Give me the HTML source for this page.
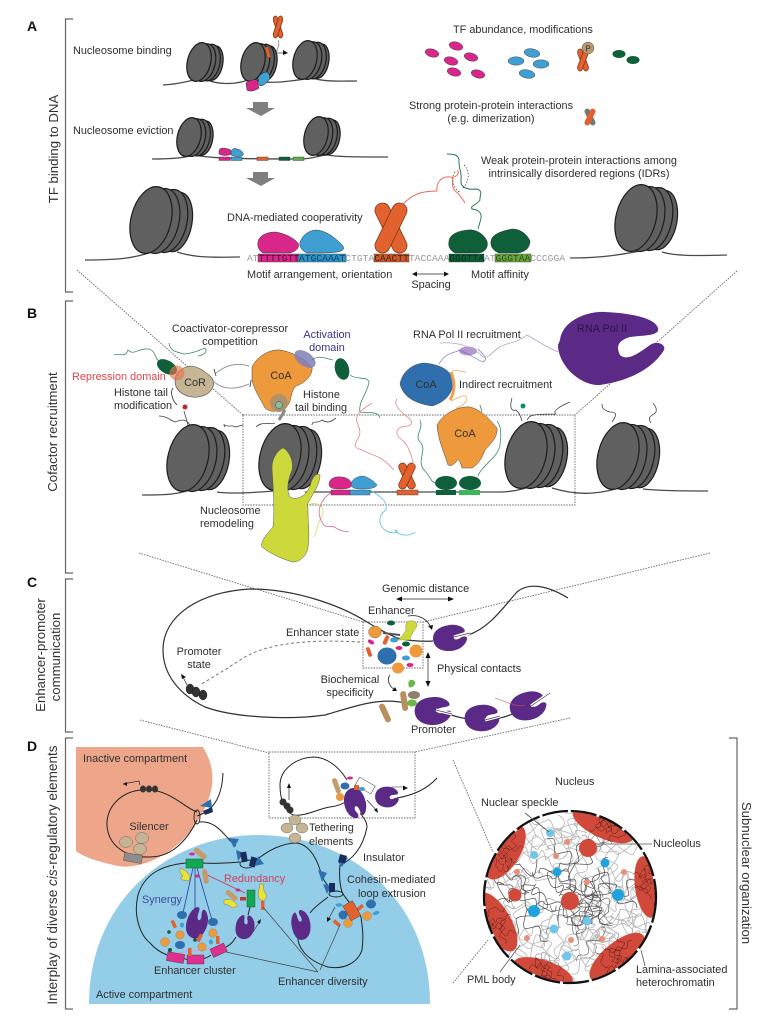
<!DOCTYPE html>
<html><head><meta charset="utf-8"><style>
html,body{margin:0;padding:0;background:#fff}
svg{display:block;filter:blur(.3px)}
text{font-family:"Liberation Sans",sans-serif;font-size:10.9px;fill:#2f2f2f}
.c{text-anchor:middle}
.l{font-size:14px;font-weight:bold;fill:#111}
.v{font-size:13.2px;text-anchor:middle;fill:#333}
.dot{fill:none;stroke:#666;stroke-width:.9;stroke-dasharray:1.5 1.2}
.dna{fill:none;stroke:#4a4a4a;stroke-width:1.3}
.blk{fill:none;stroke:#222;stroke-width:1}
.ln{fill:none;stroke-width:.8}
</style></head><body>
<svg width="768" height="1024" viewBox="0 0 768 1024" xmlns="http://www.w3.org/2000/svg">
<defs>
<g id="nuc" fill="#606060" stroke="#1c1c1c" stroke-width="1.2">
<ellipse cx="25" cy="2" rx="16" ry="30" transform="rotate(10 25 2)" vector-effect="non-scaling-stroke"/>
<ellipse cx="18" cy="1" rx="18" ry="32" transform="rotate(12 18 1)" vector-effect="non-scaling-stroke"/>
<ellipse cx="9" cy="1" rx="19" ry="33" transform="rotate(13 9 1)" vector-effect="non-scaling-stroke"/>
<ellipse cx="0" cy="0" rx="20" ry="34" transform="rotate(14)" vector-effect="non-scaling-stroke"/>
</g>
<g id="xt" stroke="#7a3010" stroke-width=".7" fill="#e2622f">
<rect x="-7.500" y="-27" width="15" height="54" rx="7.500" transform="rotate(-26)" vector-effect="non-scaling-stroke"/>
<rect x="-7.500" y="-27" width="15" height="54" rx="7.500" transform="rotate(26)" vector-effect="non-scaling-stroke"/>
</g>
<path id="pol" d="M560 340C562 322 585 311 605 312C630 313 655 318 658 328C660 336 645 335 630 337C620 340 615 345 620 355C628 362 640 352 650 345C658 340 666 345 664 350C655 365 635 380 600 385C580 386 558 365 558 345Z" fill="#5b2a86"/>
<path id="sp" d="M-17 0C-17 -9 -8 -13 2 -13C10 -13 17 -8 15 -5C12 -3 6 -4 4 -1C3 2 6 3 10 1C13 -1 17 -1 17 2C16 7 10 13 0 13C-10 13 -17 8 -17 0Z" fill="#5b2a86"/>
<g id="w" fill="none">
<path d="M-40 -20q5 -8 10 0t8 4t6 -8t8 6t4 10t-8 6t-6 8t8 6t10 -4t6 8"/>
<path d="M-30 15q6 6 10 -2t8 -6t4 -10t10 -2t6 8t8 -4t2 -10t8 -2t4 8"/>
<path d="M-10 -40q-6 6 0 10t8 6t-4 8t-8 6t4 8t8 6t6 -8t8 2t2 10t-8 6"/>
<path d="M5 5q8 -4 10 4t8 4t4 -8t10 0t2 10t-8 6t-10 -2t-6 8t6 8"/>
<path d="M-42 30q6 -6 10 0t8 4t6 -8t8 2t6 8t10 -2t4 -8"/>
<path d="M18 -30q8 4 6 10t-8 6t0 8t10 4t8 -6t8 2t-2 10"/>
</g>
<clipPath id="nc"><circle cx="570" cy="897" r="85"/></clipPath>
</defs>
<rect width="768" height="1024" fill="#fff"/>

<!-- brackets -->
<g fill="none" stroke="#666" stroke-width="1.2">
<path d="M73 19H65.500V292H73"/><path d="M73 301H65.500V573H73"/><path d="M73 579H65.500V732H73"/><path d="M73 738H65.500V1009H73"/><path d="M729 738H737V1009H729"/>
</g>
<text class="l" x="27" y="31">A</text><text class="l" x="27" y="318">B</text><text class="l" x="27" y="587">C</text><text class="l" x="27" y="751">D</text>
<text class="v" transform="translate(58,149) rotate(-90)">TF binding to DNA</text>
<text class="v" transform="translate(57,432) rotate(-90)">Cofactor recruitment</text>
<text class="v" transform="translate(45,655) rotate(-90)">Enhancer-promoter</text>
<text class="v" transform="translate(60,657) rotate(-90)">communication</text>
<text class="v" transform="translate(57,875) rotate(-90)" style="font-size:13.6px">Interplay of diverse <tspan font-style="italic">cis</tspan>-regulatory elements</text>
<text class="v" transform="translate(742,873) rotate(90)">Subnuclear organization</text>

<!-- zoom lines -->
<path class="dot" d="M77 270L243 415M737 271L575 415M139 553L363 622M710 553L423 622M140 720L269 753M570 718L415 752M453 760L493 852M453 983L488 940"/>
<rect class="dot" x="243" y="415" width="332" height="90"/>
<rect class="dot" x="363" y="622" width="60" height="46"/>
<rect class="dot" x="269" y="752" width="146" height="66"/>

<!-- PANEL A -->
<text x="73" y="54">Nucleosome binding</text>
<path class="dna" d="M163 85C185 84 195 78 205 79C215 84 235 86 250 79C265 84 280 83 312 78C325 82 340 81 357 81"/>
<use href="#nuc" transform="translate(199,62) scale(.58)"/><use href="#nuc" transform="translate(253,62) scale(.58)"/><use href="#nuc" transform="translate(305,60) scale(.58)"/>
<rect x="266" y="47" width="3.500" height="11" rx="1" fill="#e2622f" stroke="#7a3010" stroke-width=".4" transform="rotate(-15 267 52)"/>
<use href="#xt" transform="translate(278,27) scale(.3,.44)"/>
<path d="M278 40C281 46 276 48 277 52" fill="none" stroke="#555" stroke-width=".6"/><path d="M276 53H285" fill="none" stroke="#222" stroke-width=".6"/><path d="M283 50l5 3l-5 2z" fill="#111"/>
<path d="M246 83C250 80 255 79 257 80L259 88C255 91 249 92 247 90Z" fill="#d9268a" stroke="#222" stroke-width=".5"/>
<path d="M258 78C260 74 264 72 267 72C270 74 271 78 268 81C265 85 261 87 259 85Z" fill="#3f9fd3" stroke="#222" stroke-width=".5"/>
<path d="M253 102h15v6h7l-14 8l-15 -8h7z" fill="#7f7f7f"/>
<text x="73" y="134">Nucleosome eviction</text>
<path class="dna" d="M152 159C170 159 185 158 193 155C205 157 215 159 300 159C312 159 320 155 328 155C338 157 360 157 388 157"/>
<use href="#nuc" transform="translate(189,137) scale(.58)"/><use href="#nuc" transform="translate(316,136) scale(.58)"/>
<path d="M219 151c0 -4 6 -3 9 -2c3 0 4 3 3 5c-3 2 -9 2 -12 0z" fill="#d9268a" stroke="#333" stroke-width=".5"/>
<path d="M231 152c1 -4 4 -4 6 -3c2 0 5 2 6 4c1 1 0 3 -2 3c-3 1 -8 0 -10 -1z" fill="#3f9fd3" stroke="#333" stroke-width=".5"/>
<rect x="219" y="157" width="11" height="3.500" fill="#d9268a" stroke="#333" stroke-width=".4"/><rect x="231" y="157" width="11" height="3.500" fill="#3f9fd3" stroke="#333" stroke-width=".4"/>
<rect x="257" y="157" width="11" height="3.500" fill="#e2622f" stroke="#333" stroke-width=".4"/><rect x="279" y="157" width="11" height="3.500" fill="#0e5f3a" stroke="#333" stroke-width=".4"/><rect x="293" y="157" width="11" height="3.500" fill="#5cb04a" stroke="#333" stroke-width=".4"/>
<path d="M253 172h15v6h7l-14 8l-15 -8h7z" fill="#7f7f7f"/>

<path class="dna" d="M85 260C120 260 135 258 155 251M177 252C190 256 200 258 240 257"/>
<path class="dna" d="M570 258C590 258 610 257 640 251M662 252C675 256 695 256 727 255"/>
<use href="#nuc" transform="translate(151,220)"/><use href="#nuc" transform="translate(636,218)"/>
<text x="227" y="221">DNA-mediated cooperativity</text>
<rect x="258" y="254" width="40" height="8" fill="#d9268a" stroke="#333" stroke-width=".4"/><rect x="298" y="254" width="48" height="8" fill="#2e95c9" stroke="#333" stroke-width=".4"/><rect x="374" y="254" width="35" height="8" fill="#c85a2e" stroke="#333" stroke-width=".4"/><rect x="449" y="254" width="35" height="8" fill="#0e5f3a" stroke="#333" stroke-width=".4"/><rect x="495" y="254" width="36" height="8" fill="#6aa83f" stroke="#333" stroke-width=".4"/>
<text x="247" y="261" textLength="318" lengthAdjust="spacing" style="font-family:'Liberation Mono',monospace;font-size:9.600px;fill:#999">AT<tspan style="fill:#4a1030">TTTTGTT</tspan><tspan style="fill:#12405e">ATGCAAAT</tspan>CTGTA<tspan style="fill:#4d1e08">CAACTT</tspan>TACCAAA<tspan style="fill:#08301c">GGGTTA</tspan>AT<tspan style="fill:#2b4d15">GGGTAA</tspan>CCCGGA</text>
<path d="M258 242C259 235 268 232 275 232C284 233 294 238 298 243C300 247 297 251 290 253H263C259 251 257 246 258 242Z" fill="#d9268a" stroke="#333" stroke-width=".5"/>
<path d="M300 242C303 234 310 230 317 230C326 231 334 237 339 242C343 245 346 249 341 251C336 253 326 253 307 253C302 251 299 247 300 242Z" fill="#3f9fd3" stroke="#333" stroke-width=".5"/>
<use href="#xt" transform="translate(391,228)"/>
<path d="M449 241C450 234 458 231 468 230C476 229 484 234 487 241C489 248 484 253 478 253H455C449 250 448 245 449 241Z" fill="#0e5f3a" stroke="#222" stroke-width=".4"/>
<path d="M491 241C492 234 502 231 512 229C522 229 528 236 530 241C530 248 525 252 518 253H499C493 251 490 246 491 241Z" fill="#0e5f3a" stroke="#222" stroke-width=".4"/>
<path d="M403 204C412 195 420 191 437 191C436 184 440 176 450 177C458 178 460 172 457 170M453 177C452 185 452 190 458 193C460 196 463 199 465 203" fill="none" stroke="#e8705a" stroke-width="1"/>
<path d="M447 154C454 154 460 155 459 162C459 170 462 172 461 180C460 188 468 190 477 189C484 191 479 197 480 200C476 206 470 205 472 209C480 210 483 214 480 222L478 229" fill="none" stroke="#2a7a52" stroke-width="1"/>
<path d="M455 172C450 178 454 190 460 192M464 165C470 170 470 182 462 189" fill="none" stroke="#222" stroke-width=".6" stroke-dasharray="1.5 1.5"/>
<text x="247" y="278">Motif arrangement, orientation</text>
<path d="M414 274H447" stroke="#222" stroke-width=".7"/><path d="M412 274l5 -2.500v5zM449 274l-5 -2.500v5z" fill="#111"/>
<text class="c" x="431" y="288">Spacing</text><text x="471" y="278">Motif affinity</text>
<text x="453" y="33">TF abundance, modifications</text>
<g fill="#d9268a" stroke="#333" stroke-width=".4">
<ellipse cx="432" cy="53" rx="7" ry="4" transform="rotate(15 432 53)"/><ellipse cx="456" cy="46" rx="7" ry="4" transform="rotate(15 456 46)"/><ellipse cx="471" cy="57" rx="7" ry="4" transform="rotate(15 471 57)"/><ellipse cx="451" cy="61" rx="7" ry="4" transform="rotate(15 451 61)"/><ellipse cx="454" cy="72" rx="7" ry="4" transform="rotate(15 454 72)"/><ellipse cx="478" cy="74" rx="7" ry="4" transform="rotate(15 478 74)"/>
</g>
<g fill="#3f9fd3" stroke="#333" stroke-width=".4">
<ellipse cx="516" cy="61" rx="8" ry="4.200"/><ellipse cx="532" cy="53" rx="8" ry="4.200" transform="rotate(10 532 53)"/><ellipse cx="541" cy="64" rx="8" ry="4.200"/><ellipse cx="527" cy="74" rx="8" ry="4.200" transform="rotate(10 527 74)"/>
</g>
<use href="#xt" transform="translate(583,60) scale(.34,.44)"/>
<circle cx="588" cy="48" r="6" fill="#b89a70" stroke="#555" stroke-width=".5"/><text class="c" x="588" y="51.500" style="font-size:8px">P</text>
<ellipse cx="619" cy="54" rx="6.500" ry="4" fill="#0e5f3a"/><ellipse cx="633" cy="60" rx="6.500" ry="4" fill="#0e5f3a"/>
<text class="c" x="491" y="109">Strong protein-protein interactions</text><text class="c" x="491" y="122">(e.g. dimerization)</text>
<rect x="-2.800" y="-9" width="5.600" height="18" rx="2.800" fill="#777" transform="translate(590,117) rotate(-26)"/><rect x="-2.800" y="-9" width="5.600" height="18" rx="2.800" fill="#e2622f" transform="translate(590,117) rotate(26)"/>
<text class="c" x="579" y="164">Weak protein-protein interactions among</text><text class="c" x="579" y="177">intrinsically disordered regions (IDRs)</text>

<!-- PANEL B -->
<path class="dna" d="M142 495C165 495 180 495 197 487M217 492C230 494 250 493 273 491M305 492H500C510 492 520 490 529 487M552 488C565 492 580 494 593 493C605 492 612 490 622 487M643 489C660 491 685 491 708 491"/>
<use href="#nuc" transform="translate(188,458)"/><use href="#nuc" transform="translate(280,457)"/>
<use href="#nuc" transform="translate(526,455)"/><use href="#nuc" transform="translate(618,456)"/>
<path class="ln" stroke="#444" d="M190 425C186 418 180 420 175 422C170 420 166 416 159 416M188 425L184 411M224 427C226 426 222 424 225 425C228 428 232 424 235 427L243 425M275 423C268 425 262 421 256 427M312 425C312 420 318 424 322 420C328 424 332 421 336 418M522 421C520 414 518 412 516 410C510 412 510 405 512 398M527 420C530 416 528 414 556 414C552 412 558 407 570 402M612 422C618 414 616 412 610 412C603 410 602 408 602 404M651 423C646 416 654 415 656 412C657 408 655 406 653 403" stroke-width="1"/>
<circle cx="185" cy="407" r="2.500" fill="#c0272d"/><circle cx="523" cy="406" r="2.500" fill="#10905a"/>
<path d="M175 381C175 372 183 367 190 366C198 366 206 372 212 378C216 384 212 392 205 395C196 399 186 397 180 392C176 388 175 385 175 381Z" fill="#c5b595" stroke="#444" stroke-width=".6"/>
<ellipse cx="167" cy="367" rx="11" ry="6.500" transform="rotate(30 167 367)" fill="#0e5f3a"/>
<circle cx="177" cy="373" r="7.500" fill="#e8754f" opacity=".65"/>
<path class="ln" stroke="#3a8a68" d="M114 355C122 353 125 358 128 350C134 356 138 348 148 349C156 350 154 358 159 361"/>
<path class="ln" stroke="#3a8a68" d="M169 343C170 352 178 352 184 354C192 354 200 350 205 348C208 352 204 355 198 356"/>
<text x="72" y="380" style="fill:#e0454a">Repression domain</text>
<text x="114" y="396">Histone tail</text><text x="114" y="409">modification</text>
<path class="ln" stroke="#333" d="M173 388C170 392 172 400 177 405"/>
<text class="c" x="195" y="386">CoR</text>
<text class="c" x="230" y="332">Coactivator-corepressor</text><text class="c" x="230" y="345">competition</text>
<path fill="none" stroke="#999" stroke-width="1" d="M216 373C225 366 235 362 249 366M212 380C222 390 235 390 249 384"/>
<path stroke="#555" stroke-width="1" d="M214 369l2 7M251 380l-1 7"/>
<path d="M252 367C256 358 268 349 280 350C292 352 304 358 312 367C313 373 308 382 296 386C290 392 292 400 288 405C282 411 272 414 265 408C260 398 254 390 252 380Z" fill="#ee9a3c" stroke="#444" stroke-width=".5"/>
<ellipse cx="305" cy="359" rx="12" ry="7" transform="rotate(35 305 359)" fill="#7f7fb5" opacity=".85"/>
<circle cx="279" cy="403" r="9" fill="#a89070" opacity=".9"/><circle cx="279" cy="405" r="3.500" fill="#7fc0a0" stroke="#333" stroke-width=".4"/>
<text class="c" x="281" y="379">CoA</text>
<text class="c" x="327" y="338" style="fill:#3b3588">Activation</text><text class="c" x="327" y="351" style="fill:#3b3588">domain</text>
<ellipse cx="342" cy="369" rx="7" ry="11" transform="rotate(-15 342 369)" fill="#0e5f3a"/>
<path class="ln" stroke="#3a8a68" d="M312 360C318 355 324 358 333 360M350 375C356 380 368 376 369 382C368 392 358 402 360 412C368 414 378 410 380 418"/>
<text x="303" y="398">Histone</text><text x="295" y="411">tail binding</text>
<path d="M279 420L285 410" stroke="#888" stroke-width="3"/>
<path d="M283 448C278 450 272 458 272 468C273 485 275 510 273 527C266 535 260 542 262 547C272 555 285 560 293 562C302 562 308 552 308 547C310 535 308 522 308 513C308 508 308 506 307 505C312 495 320 485 320 475C316 472 312 478 310 486C305 498 296 500 290 497C286 490 288 480 292 470C294 460 288 450 283 448Z" fill="#cdd83a" stroke="#555" stroke-width=".5"/>
<text x="200" y="514">Nucleosome</text><text x="200" y="527">remodeling</text>
<path class="ln" stroke="#d8d860" d="M308 505C318 500 326 508 322 516C316 525 318 530 314 537"/>
<path class="ln" stroke="#d868a0" d="M332 492C322 498 315 510 322 522C325 530 332 524 336 528C342 532 350 532 348 531"/>
<path class="ln" stroke="#5cc0e0" d="M370 490C378 495 388 500 386 510C378 515 378 525 385 530C392 535 402 532 395 530C400 538 412 535 415 532"/>
<path d="M329 484C329 479 335 476 341 477C347 477 352 481 352 485C351 488 347 489 340 489C333 489 329 488 329 484Z" fill="#d9268a" stroke="#333" stroke-width=".4"/>
<path d="M351 484C352 479 358 476 363 476C368 477 374 481 377 485C376 488 370 489 362 489C355 489 351 488 351 484Z" fill="#3f9fd3" stroke="#333" stroke-width=".4"/>
<rect x="331" y="490" width="19" height="5" fill="#d9268a" stroke="#333" stroke-width=".4"/><rect x="350" y="490" width="20" height="5" fill="#3f9fd3" stroke="#333" stroke-width=".4"/>
<use href="#xt" transform="translate(407,476) scale(.52,.52)"/>
<rect x="397" y="490" width="21" height="5" fill="#e2622f" stroke="#333" stroke-width=".4"/>
<ellipse cx="446" cy="483" rx="11" ry="7" fill="#0e5f3a"/><ellipse cx="470" cy="483" rx="11" ry="7" fill="#0e5f3a"/>
<rect x="436" y="490" width="20" height="5" fill="#0e5f3a"/><rect x="459" y="490" width="21" height="5" fill="#3db65a"/>
<path class="ln" stroke="#e08a90" d="M397 399C392 405 402 412 406 416C412 420 414 424 408 426C398 426 392 432 402 440C410 446 412 460 414 465"/>
<path class="ln" stroke="#e08a90" d="M372 403C358 412 354 416 358 425C366 440 345 445 362 450C372 456 380 454 394 470"/>
<path class="ln" stroke="#3a8a68" d="M420 420C424 428 414 436 420 442C428 450 416 460 424 470C432 478 430 482 436 483M478 476C482 465 498 458 500 445C502 430 500 425 497 421M480 405L482 412"/>
<path d="M400 384C402 372 412 364 424 363C436 364 450 368 453 380C454 392 446 402 432 406C420 404 404 400 400 384Z" fill="#2f6fae" stroke="#333" stroke-width=".4"/>
<path d="M451 372C455 382 455 392 450 400" fill="none" stroke="#f0a050" stroke-width="3"/>
<path class="ln" stroke="#f0b060" d="M452 371C458 369 460 372 466 372M451 401C458 398 466 392 467 399C466 404 458 408 456 408"/>
<text class="c" x="426" y="388">CoA</text>
<path d="M437 425C444 412 460 406 470 407C482 410 490 420 497 428C498 438 490 444 485 450C482 458 478 465 472 468H462C460 460 458 458 456 462C452 466 450 466 448 465C444 452 438 440 437 425Z" fill="#ee9a3c" stroke="#444" stroke-width=".5"/>
<text class="c" x="465" y="437">CoA</text>
<text x="413" y="338">RNA Pol II recruitment</text><text x="459" y="388">Indirect recruitment</text>
<path class="ln" stroke="#8a8ac0" d="M439 364C446 352 452 354 460 350C470 355 478 360 483 362C490 358 480 352 478 349"/>
<ellipse cx="468" cy="351" rx="9" ry="4.500" fill="#8a60b5" opacity=".65"/>
<path class="ln" stroke="#b8a0cc" d="M440 343C452 342 468 344 480 354C486 362 490 354 498 348C506 342 516 344 527 335C536 340 548 348 558 352"/>
<use href="#pol"/>
<text x="577" y="332" style="fill:#2f1248">RNA Pol II</text>

<!-- PANEL C -->
<path fill="none" stroke="#333" stroke-width="1.200" d="M433 641C420 642 405 640 397 638C388 634 380 630 367 622C340 605 295 589 250 589C200 592 163 615 163 650C163 675 180 695 205 707C235 718 290 720 325 715C350 708 375 698 400 702L415 704"/>
<path fill="none" stroke="#333" stroke-width="1.200" d="M468 635C490 628 505 605 517 592C527 583 545 584 568 598"/>
<path d="M448 714C460 718 465 719 485 720C500 720 510 715 530 707" fill="none" stroke="#333" stroke-width="1.200"/>
<path fill="none" stroke="#777" stroke-width="1" stroke-dasharray="3 2.500" d="M360 642C320 640 270 640 240 660C222 672 208 680 200 685"/>
<g fill="#333" stroke="#111" stroke-width=".4"><ellipse cx="190" cy="689" rx="4" ry="5"/><ellipse cx="196" cy="692" rx="4" ry="5"/><ellipse cx="203" cy="695" rx="4" ry="5"/></g>
<path d="M187 685L182 675" stroke="#222" stroke-width=".7"/><path d="M181 674l5 3l-4 2z" fill="#111"/>
<text class="c" x="199" y="655">Promoter</text><text class="c" x="199" y="668">state</text>
<text x="382" y="592">Genomic distance</text>
<path d="M398 599H452" stroke="#222" stroke-width=".7"/><path d="M396 599l6 -2.500v5zM454 599l-6 -2.500v5z" fill="#111"/>
<text x="368" y="614">Enhancer</text><text x="286" y="636">Enhancer state</text>
<path d="M408 616C420 614 428 620 431 628" fill="none" stroke="#222" stroke-width=".8"/><path d="M432 630l-4 -4l5 -1z" fill="#111"/>
<use href="#sp" transform="translate(450,638) rotate(-5)"/>
<use href="#sp" transform="translate(433,711) scale(1.08)"/><use href="#sp" transform="translate(482,718) scale(1.02)"/><use href="#sp" transform="translate(528,706) scale(1.08) rotate(-12)"/>
<path d="M454 637L470 633M436 710L452 714M485 720L500 716M531 706L548 694" stroke="#fff" stroke-width="3"/><path d="M454 637L470 633M436 710L452 714M485 720L500 716M531 706L550 693" stroke="#444" stroke-width=".7"/>
<path d="M495 698C510 703 518 708 525 705" fill="none" stroke="#c8506a" stroke-width=".6"/>
<text x="411" y="733">Promoter</text>
<text x="437" y="672">Physical contacts</text>
<path d="M428 655V684" stroke="#222" stroke-width=".7"/><path d="M428 652l-2.500 6h5zM428 687l-2.500 -6h5z" fill="#111"/>
<text class="c" x="350" y="683">Biochemical</text><text class="c" x="350" y="696">specificity</text>
<path d="M390 675C386 680 390 688 396 690" fill="none" stroke="#222" stroke-width=".8"/><path d="M397 691l-5 0l3 -4z" fill="#111"/>
<path d="M383 633L400 635" stroke="#555" stroke-width="2"/>
<ellipse cx="375" cy="632" rx="6.500" ry="6" fill="#ee9a3c" stroke="#444" stroke-width=".3"/><ellipse cx="391" cy="623" rx="4" ry="2.500" fill="#0e5f3a"/>
<path d="M409 621C413 620 418 622 417 626C415 630 411 634 410 640L398 640C402 636 406 632 406 628C405 625 406 622 409 621Z" fill="#cdd83a" stroke="#555" stroke-width=".3"/>
<ellipse cx="416" cy="651" rx="6.500" ry="6.500" fill="#ee9a3c"/><ellipse cx="399" cy="648" rx="3.500" ry="2" fill="#d9268a"/><ellipse cx="371" cy="642" rx="3.500" ry="2" fill="#d9268a" transform="rotate(30 371 642)"/><ellipse cx="410" cy="665" rx="3.500" ry="2" fill="#d9268a"/>
<ellipse cx="394" cy="640" rx="4" ry="2.500" fill="#3f9fd3"/><ellipse cx="406" cy="658" rx="4" ry="2.500" fill="#3f9fd3"/>
<ellipse cx="387" cy="656" rx="9.500" ry="8.500" fill="#2f6fae"/>
<ellipse cx="398" cy="668" rx="6" ry="5.500" fill="#ee9a3c"/><rect x="384" y="635" width="4" height="10" rx="2" fill="#e2622f" transform="rotate(25 386 640)"/><rect x="367" y="647" width="4" height="10" rx="2" fill="#e2622f" transform="rotate(-20 369 652)"/>
<ellipse cx="406" cy="644" rx="4" ry="2.500" fill="#0e5f3a"/><path d="M410 680c3 -1 6 1 5 4c-1 3 -5 4 -6 3c-1 -3 -1 -5 1 -7z" fill="#6ab84a"/>
<rect x="401" y="691" width="6" height="20" rx="3" fill="#b98f5f" transform="rotate(-8 404 700)"/><rect x="382" y="703" width="6" height="20" rx="3" fill="#b98f5f" transform="rotate(-25 385 713)"/><ellipse cx="414" cy="695" rx="6" ry="4" fill="#8d8170"/><ellipse cx="412" cy="703" rx="5" ry="3.500" fill="#6ab84a"/>

<!-- PANEL D -->
<path d="M89 1004C89 900 170 835 258 835C350 835 430 900 430 1004Z" fill="#93cde8"/>
<path d="M76 747H203C220 775 212 800 195 825C175 855 140 870 118 866C100 862 85 858 76 851Z" fill="#eea68a"/>
<text x="83" y="762">Inactive compartment</text>
<text class="c" x="149" y="830">Silencer</text>
<path class="blk" d="M197 812C185 808 170 790 148 790C125 788 106 805 107 825C108 845 125 858 150 857C175 857 190 835 197 820M223 773C222 795 215 810 197 816M199 822C218 820 225 838 236 846"/>
<ellipse cx="197" cy="817" rx="3" ry="7" fill="none" stroke="#222" stroke-width=".9"/>
<path d="M200 806l11 -7l1 9z" fill="#2f6fae"/><path d="M203 811l9 -4l1 5l-8 3z" fill="#1a2d5a"/>
<g fill="#333"><ellipse cx="143" cy="789" rx="3" ry="3.500"/><ellipse cx="149" cy="789" rx="3" ry="3.500"/><ellipse cx="155" cy="789" rx="3" ry="3.500"/></g>
<path d="M140 785L139 781L123 784" fill="none" stroke="#222" stroke-width=".7"/><path d="M123 784l4 -2v4z" fill="#111"/>
<g fill="#c5b595" stroke="#555" stroke-width=".4"><ellipse cx="126" cy="842" rx="6.500" ry="5.500"/><ellipse cx="142" cy="838" rx="6.500" ry="5.500"/><ellipse cx="140" cy="849" rx="6.500" ry="5.500"/></g>
<rect x="124" y="854" width="18" height="8" fill="#8d8d8d" stroke="#444" stroke-width=".4" transform="rotate(10 133 858)"/>
<!-- loops -->
<path class="blk" d="M186 863C165 865 145 872 138 895C133 915 140 935 150 943C156 950 162 953 167 955M183 958C190 962 205 960 211 955M226 947C232 944 234 940 236 937M250 907L248 915M203 863C215 864 228 863 240 862M254 862C268 850 283 843 297 843C310 845 318 860 322 877C325 882 328 886 331 890M328 897C322 902 314 907 310 913M298 933C296 945 305 960 328 967C345 970 358 962 362 950C364 935 362 925 361 917C355 908 346 900 342 892C340 885 339 875 340 865C352 860 363 848 367 827C367 822 364 818 360 813"/>
<ellipse cx="247" cy="864" rx="7" ry="4" fill="none" stroke="#222" stroke-width=".9"/><ellipse cx="336" cy="894" rx="7" ry="3" fill="none" stroke="#222" stroke-width=".9"/>
<path d="M229 838l10 1l-5 9zM236 850l8 3l-6 8zM258 856l6 8l-9 2z" fill="#2f6fae"/><rect x="241" y="852" width="6" height="10" fill="#1a2d5a" transform="rotate(-10 244 857)"/><rect x="250" y="857" width="6" height="10" fill="#1a2d5a" transform="rotate(15 253 862)"/>
<path d="M318 870l9 3l-5 9zM323 884l8 2l-4 8z" fill="#2f6fae"/><rect x="329" y="883" width="6" height="9" fill="#1a2d5a"/>
<path d="M338 862l10 -5l-6 10z" fill="#2f6fae"/><rect x="339" y="855" width="7" height="8" fill="#1a2d5a" transform="rotate(15 343 859)"/>
<rect x="186" y="859" width="17" height="9" fill="#10a850" stroke="#333" stroke-width=".4"/><rect x="247" y="890" width="8" height="17" fill="#10a850" stroke="#333" stroke-width=".4"/>
<path d="M203 873L245 893" stroke="#c8506a" stroke-width="1"/>
<path d="M193 868L183 913M195 868L195 923M197 868L212 920" fill="none" stroke="#2a3f9a" stroke-width=".8"/>
<text x="224" y="882" style="fill:#d0415a">Redundancy</text><text x="142" y="903" style="fill:#3b4a9a">Synergy</text>
<path d="M177 953L217 948" stroke="#e89ab8" stroke-width="1"/>
<rect x="167" y="953" width="17" height="9" fill="#e0308f" stroke="#333" stroke-width=".4" transform="rotate(10 175 958)"/><rect x="187" y="955" width="17" height="9" fill="#e0308f" stroke="#333" stroke-width=".4"/><rect x="211" y="946" width="15" height="9" fill="#e0308f" stroke="#333" stroke-width=".4" transform="rotate(-25 218 950)"/>
<rect x="197" y="846" width="5.500" height="15" rx="2.700" fill="#c79a6b" transform="rotate(-50 200 853)"/><rect x="203" y="869" width="5" height="15" rx="2.500" fill="#c79a6b" transform="rotate(-10 205 877)"/>
<ellipse cx="192" cy="854" rx="3" ry="1.500" fill="#d9268a"/><ellipse cx="197" cy="876" rx="2.500" ry="1.500" fill="#d9268a"/>
<path d="M180 868l6 3l4 5l-1 5l-6 -1l-3 -2l3 -2l-3 -4z" fill="#e9e23a" stroke="#444" stroke-width=".3"/>
<use href="#sp" transform="translate(197,923) scale(.78,.95) rotate(-60)"/><use href="#sp" transform="translate(245,927) scale(.72) rotate(-75)"/><use href="#sp" transform="translate(301,925) scale(.72,.88) rotate(-100)"/>
<g fill="#2f6fae"><ellipse cx="182" cy="915" rx="5" ry="4"/><ellipse cx="213" cy="922" rx="5" ry="4"/><ellipse cx="180" cy="945" rx="5" ry="4"/><ellipse cx="343" cy="915" rx="4.500" ry="4.500"/><ellipse cx="371" cy="904" rx="5" ry="4.500"/></g>
<g fill="#ee9a3c" stroke="#555" stroke-width=".2"><circle cx="180" cy="935" r="4.200"/><circle cx="165" cy="942" r="4.500"/><circle cx="202" cy="947" r="4.200"/><circle cx="213" cy="933" r="4.200"/><circle cx="348" cy="923" r="4.500"/><circle cx="367" cy="916" r="4.500"/></g>
<g fill="#e2622f"><rect x="172" y="920" width="3.500" height="8" transform="rotate(-25 174 924)"/><rect x="198" y="934" width="3.500" height="8" transform="rotate(25 200 938)"/><rect x="216" y="936" width="3.500" height="8"/><rect x="188" y="948" width="3.500" height="8"/><rect x="335" y="919" width="3.500" height="8" transform="rotate(-50 337 923)"/><rect x="358" y="904" width="3.500" height="8" transform="rotate(50 360 908)"/></g>
<g fill="#0e5f3a"><circle cx="169" cy="932" r="1.800"/><circle cx="170" cy="950" r="2"/><circle cx="195" cy="940" r="1.800"/></g>
<g fill="#3f9fd3"><ellipse cx="182" cy="925" rx="2" ry="2.500"/><ellipse cx="211" cy="942" rx="2" ry="2.500"/><ellipse cx="376" cy="913" rx="3.500" ry="1.800" transform="rotate(-20 376 913)"/><ellipse cx="339" cy="905" rx="3.500" ry="1.800"/></g>
<rect x="346" y="902" width="11" height="17" fill="#e2622f" stroke="#333" stroke-width=".4" transform="rotate(-30 352 910)"/>
<rect x="229" y="888" width="5" height="14" rx="2.500" fill="#c79a6b" transform="rotate(-50 232 895)"/><path d="M224 900l6 -1l5 3l3 4l-5 2l-5 -3l-4 -1z" fill="#e9e23a" stroke="#444" stroke-width=".3"/><path d="M260 884l3 0l1 7l3 5l-3 5l-5 -2l-1 -5z" fill="#e9e23a" stroke="#444" stroke-width=".3"/><rect x="261" y="901" width="3.500" height="9" fill="#e2622f"/><rect x="240" y="897" width="6" height="3.500" fill="#c0392b"/><ellipse cx="238" cy="890" rx="2.500" ry="1.500" fill="#d9268a"/>
<path d="M263 907L318 972M340 925L320 970M226 952L318 972" fill="none" stroke="#444" stroke-width=".7"/>
<path d="M253 932L260 921" fill="none" stroke="#222" stroke-width=".6"/><path d="M261 919l-1 5l-3 -2z" fill="#111"/>
<path d="M335 907L328 920" fill="none" stroke="#222" stroke-width=".6"/><path d="M327 922l0 -5l4 2z" fill="#111"/>
<text x="154" y="974">Enhancer cluster</text><text x="278" y="985">Enhancer diversity</text><text x="96" y="998">Active compartment</text>
<text x="347" y="883">Cohesin-mediated</text><text x="358" y="897">loop extrusion</text><text x="363" y="861">Insulator</text>
<text x="309" y="831">Tethering</text><text x="309" y="845">elements</text>
<path class="blk" d="M347 780C338 765 325 757 313 757C295 758 280 770 280 785C280 800 284 810 293 815C305 817 320 808 330 807C340 806 345 802 349 800M397 798C415 795 428 788 437 778"/>
<g fill="#333"><circle cx="283" cy="802" r="3.500"/><circle cx="287" cy="806" r="3.500"/><circle cx="290" cy="810" r="3.500"/></g>
<path d="M289 800V785" stroke="#222" stroke-width=".7"/><path d="M289 783l-2 5h4z" fill="#111"/>
<g fill="#c5b595" stroke="#555" stroke-width=".4"><ellipse cx="295" cy="820" rx="6" ry="5"/><ellipse cx="287" cy="828" rx="6" ry="5"/><ellipse cx="302" cy="828" rx="6" ry="5"/><ellipse cx="295" cy="838" rx="6" ry="5"/></g>
<use href="#sp" transform="translate(355,803) scale(.82,.9) rotate(75)"/><use href="#sp" transform="translate(387,797) scale(.7,.8) rotate(5)"/>
<rect x="356" y="781" width="18" height="9" fill="#fff" stroke="#333" stroke-width=".5" transform="rotate(30 365 786)"/>
<ellipse cx="345" cy="786" rx="4.500" ry="3.500" fill="#2f6fae"/><circle cx="340" cy="797" r="4" fill="#ee9a3c"/><rect x="334" y="778" width="5" height="16" rx="2.500" fill="#c79a6b" transform="rotate(-20 336 786)"/><ellipse cx="350" cy="778" rx="3" ry="1.500" fill="#d9268a"/><rect x="354" y="785" width="5" height="5" fill="#e2622f"/><ellipse cx="362" cy="789" rx="3" ry="2" fill="#3f9fd3"/>
<path d="M392 787H405M367 800L377 811" stroke="#222" stroke-width=".6"/><path d="M408 788l-5 -2.500v5zM378 813l-1 -5l-3 2z" fill="#111"/>

<!-- NUCLEUS -->
<text x="555" y="785">Nucleus</text><text x="481" y="806">Nuclear speckle</text><text x="653" y="847">Nucleolus</text><text x="467" y="983">PML body</text><text x="636" y="973">Lamina-associated</text><text x="636" y="986">heterochromatin</text>
<circle cx="570" cy="897" r="86" fill="#fff"/>
<g clip-path="url(#nc)">
<g stroke="#b5b5b5" stroke-width=".8">
<use href="#w" transform="translate(540,845)"/><use href="#w" transform="translate(610,860) rotate(80)"/><use href="#w" transform="translate(535,940) rotate(160)"/><use href="#w" transform="translate(600,945) rotate(240)"/><use href="#w" transform="translate(570,830) rotate(300)"/><use href="#w" transform="translate(640,925) rotate(30)"/><use href="#w" transform="translate(565,960) rotate(110)"/><use href="#w" transform="translate(510,880) rotate(200)"/><use href="#w" transform="translate(620,915) rotate(150)"/>
</g>
<g stroke="#555" stroke-width=".75">
<use href="#w" transform="translate(565,880) rotate(40)"/><use href="#w" transform="translate(600,890) rotate(130)"/><use href="#w" transform="translate(530,900) rotate(220)"/><use href="#w" transform="translate(580,920) rotate(310) scale(.8)"/>
</g>
<g fill="#d0493a">
<ellipse cx="603" cy="825" rx="33" ry="13" transform="rotate(25 603 825)"/><ellipse cx="505" cy="852" rx="31" ry="15" transform="rotate(-58 505 852)"/><ellipse cx="647" cy="887" rx="31" ry="12" transform="rotate(82 647 887)"/><ellipse cx="497" cy="922" rx="33" ry="14" transform="rotate(60 497 922)"/><ellipse cx="543" cy="972" rx="31" ry="12" transform="rotate(18 543 972)"/><ellipse cx="617" cy="957" rx="34" ry="14" transform="rotate(-40 617 957)"/>
<circle cx="588" cy="848" r="9"/><circle cx="570" cy="901" r="9"/><circle cx="515" cy="895" r="6.500"/>
</g>
<g stroke="#2a1010" stroke-width=".7">
<use href="#w" transform="translate(605,825) rotate(10) scale(.5)"/><use href="#w" transform="translate(505,852) rotate(90) scale(.45)"/><use href="#w" transform="translate(497,925) rotate(170) scale(.5)"/><use href="#w" transform="translate(545,972) rotate(250) scale(.45)"/><use href="#w" transform="translate(617,955) rotate(60) scale(.5)"/><use href="#w" transform="translate(645,885) rotate(280) scale(.45)"/>
</g>
<g fill="#e88f7a"><circle cx="567" cy="842" r="3"/><circle cx="556" cy="856" r="3"/><circle cx="517" cy="872" r="3"/><circle cx="624" cy="872" r="3"/><circle cx="587" cy="882" r="3"/><circle cx="527" cy="938" r="3"/><circle cx="571" cy="940" r="3"/><circle cx="602" cy="939" r="3"/></g>
<g fill="#1fa3dc"><circle cx="557" cy="872" r="4.500"/><circle cx="605" cy="863" r="4.500"/><circle cx="618" cy="895" r="6"/><circle cx="534" cy="911" r="6"/></g>
<g fill="#6fc6e8"><circle cx="550" cy="833" r="4"/><circle cx="534" cy="855" r="4"/><circle cx="554" cy="929" r="4.500"/><circle cx="567" cy="956" r="4.500"/><circle cx="587" cy="921" r="4.500"/></g>
</g>
<circle cx="570" cy="897" r="86" fill="none" stroke="#111" stroke-width="2.300" stroke-dasharray="26 3"/>
<path class="ln" stroke="#555" d="M525 813L549 832M596 844H652M641 950L645 966M500 972L520 945"/>
</svg>
</body></html>
